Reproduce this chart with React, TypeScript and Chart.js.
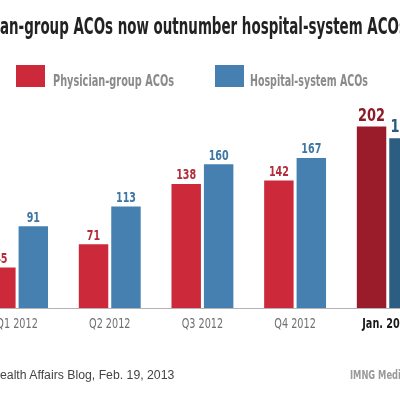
import React, { useEffect, useRef } from "react";
import { Chart, registerables } from "chart.js";

Chart.register(...registerables);

const categories = ["Q1 2012", "Q2 2012", "Q3 2012", "Q4 2012", "Jan. 2013"];
const physicianGroup = [45, 71, 138, 142, 202];
const hospitalSystem = [91, 113, 160, 167, 189];
const seriesNames = ["Physician-group ACOs", "Hospital-system ACOs"];
const titleText = "Physician-group ACOs now outnumber hospital-system ACOs";
const sourceText = "Health Affairs Blog, Feb. 19, 2013";
const creditText = "IMNG Medical News";

const NARROW = '"DejaVu Sans Condensed", "Liberation Sans Narrow", "DejaVu Sans", sans-serif';
const RED = "#cc2a3a";
const RED_DARK = "#9a1c2b";
const BLUE = "#4580b1";
const BLUE_DARK = "#2d5e82";
const LAST = categories.length - 1;

const mctx: CanvasRenderingContext2D | null =
  typeof document !== "undefined" ? document.createElement("canvas").getContext("2d") : null;

function measure(text: string, font: string) {
  if (!mctx) return { w: text.length * 7, a: 10, d: 3 };
  mctx.font = font;
  const m = mctx.measureText(text);
  return { w: m.width, a: m.fontBoundingBoxAscent || 10, d: m.fontBoundingBoxDescent || 3 };
}

function drawFit(ctx: CanvasRenderingContext2D, text: string, x: number, y: number, font: string, s: number, color: string) {
  ctx.save();
  ctx.font = font;
  ctx.fillStyle = color;
  ctx.textAlign = "center";
  ctx.textBaseline = "alphabetic";
  ctx.translate(x, y);
  ctx.scale(s, 1);
  ctx.fillText(text, 0, 0);
  ctx.restore();
}

const valueLabels = {
  id: "valueLabels",
  afterDatasetsDraw(chart: any) {
    const ctx = chart.ctx;
    const fNorm = `bold 14px ${NARROW}`;
    const fLast = `bold 17px ${NARROW}`;
    const sNorm = 20 / measure("160", fNorm).w;
    const sLast = 27 / measure("202", fLast).w;
    chart.data.datasets.forEach((ds: any, di: number) => {
      const meta = chart.getDatasetMeta(di);
      meta.data.forEach((el: any, i: number) => {
        const last = i === LAST;
        let color;
        if (di === 0) color = last ? "#8e1a28" : "#b32c3b";
        else color = last ? "#2a5a7e" : "#3d76a4";
        drawFit(ctx, String(ds.data[i]), el.x, el.y - (last ? 6 : 4.7), last ? fLast : fNorm, last ? sLast : sNorm, color);
      });
    });
  },
};

const axisLabels = {
  id: "axisLabels",
  afterDraw(chart: any) {
    const ctx = chart.ctx;
    const xs = chart.scales.x;
    const fNorm = `14px ${NARROW}`;
    const fBold = `bold 14px ${NARROW}`;
    const s = 41.5 / measure("Q2 2012", fNorm).w;
    chart.data.labels.forEach((lab: string, i: number) => {
      const last = i === LAST;
      drawFit(ctx, lab, xs.getPixelForTick(i), chart.chartArea.bottom + 20.3, last ? fBold : fNorm, s, last ? "#1a1a1a" : "#707070");
    });
  },
};

function Txt(props: {
  text: string;
  prefix?: string;
  fit?: string;
  font: string;
  left: number;
  baseline: number;
  width: number;
  color: string;
}) {
  const m = measure(props.fit ?? props.text, props.font);
  const s = props.width / m.w;
  const L = m.a + m.d;
  const top = props.baseline - m.a;
  return (
    <div
      style={{
        position: "absolute",
        left: props.left,
        top,
        font: props.font,
        lineHeight: `${L}px`,
        color: props.color,
        whiteSpace: "nowrap",
        transform: `scaleX(${s})`,
        transformOrigin: "0 0",
      }}
    >
      {props.prefix ? <span style={{ position: "absolute", right: "100%" }}>{props.prefix}</span> : null}
      {props.text}
    </div>
  );
}

export default function App() {
  const ref = useRef<HTMLCanvasElement | null>(null);

  useEffect(() => {
    const canvas = ref.current;
    if (!canvas) return;
    const chart = new Chart(canvas, {
      type: "bar",
      data: {
        labels: categories,
        datasets: [
          {
            label: seriesNames[0],
            data: physicianGroup,
            backgroundColor: categories.map((_, i) => (i === LAST ? RED_DARK : RED)),
            categoryPercentage: 0.7,
            barPercentage: 0.908,
          },
          {
            label: seriesNames[1],
            data: hospitalSystem,
            backgroundColor: categories.map((_, i) => (i === LAST ? BLUE_DARK : BLUE)),
            categoryPercentage: 0.7,
            barPercentage: 0.908,
          },
        ],
      },
      options: {
        responsive: false,
        animation: false,
        layout: { padding: { left: 30.75, right: 25.9, top: 110, bottom: 62 } },
        plugins: {
          legend: { display: false },
          title: { display: false },
          tooltip: { enabled: false },
        },
        scales: {
          x: {
            grid: { display: false, drawTicks: false },
            border: { display: true, color: "#b4b4b4", width: 1 },
            ticks: { display: false },
            afterFit: (s: any) => {
              s.height = 30;
            },
          },
          y: { display: false, min: 0, max: 220.5 },
        },
      } as any,
      plugins: [valueLabels, axisLabels],
    });
    return () => chart.destroy();
  }, []);

  const split = titleText.indexOf("an-group");
  const titleVisible = titleText.slice(split);

  return (
    <div
      style={{
        position: "fixed",
        left: 0,
        top: 0,
        width: 400,
        height: 400,
        overflow: "hidden",
        background: "#ffffff",
      }}
    >
      <canvas
        ref={ref}
        width={520}
        height={400}
        style={{ position: "absolute", left: -60, top: 0, width: 520, height: 400 }}
      />
      <Txt
        text={titleVisible}
        prefix={titleText.slice(0, split)}
        fit={titleVisible.slice(0, -1)}
        font={`bold 23px ${NARROW}`}
        left={0}
        baseline={34}
        width={399}
        color="#222222"
      />
      <div style={{ position: "absolute", left: 16, top: 65, width: 29, height: 21.5, background: RED }} />
      <Txt text={seriesNames[0]} font={`bold 15px ${NARROW}`} left={53.3} baseline={85.5} width={121} color="#8a8a8a" />
      <div style={{ position: "absolute", left: 215, top: 65, width: 29, height: 21.5, background: BLUE }} />
      <Txt text={seriesNames[1]} font={`bold 15px ${NARROW}`} left={250} baseline={85.5} width={118} color="#8a8a8a" />
      <Txt
        text={sourceText.slice(1)}
        prefix={sourceText.slice(0, 1)}
        font={'12px "Liberation Sans", Arial, sans-serif'}
        left={0}
        baseline={379}
        width={175}
        color="#444444"
      />
      <Txt
        text={creditText}
        fit="IMNG Med"
        font={`bold 12.5px ${NARROW}`}
        left={350}
        baseline={379}
        width={48}
        color="#999999"
      />
    </div>
  );
}
